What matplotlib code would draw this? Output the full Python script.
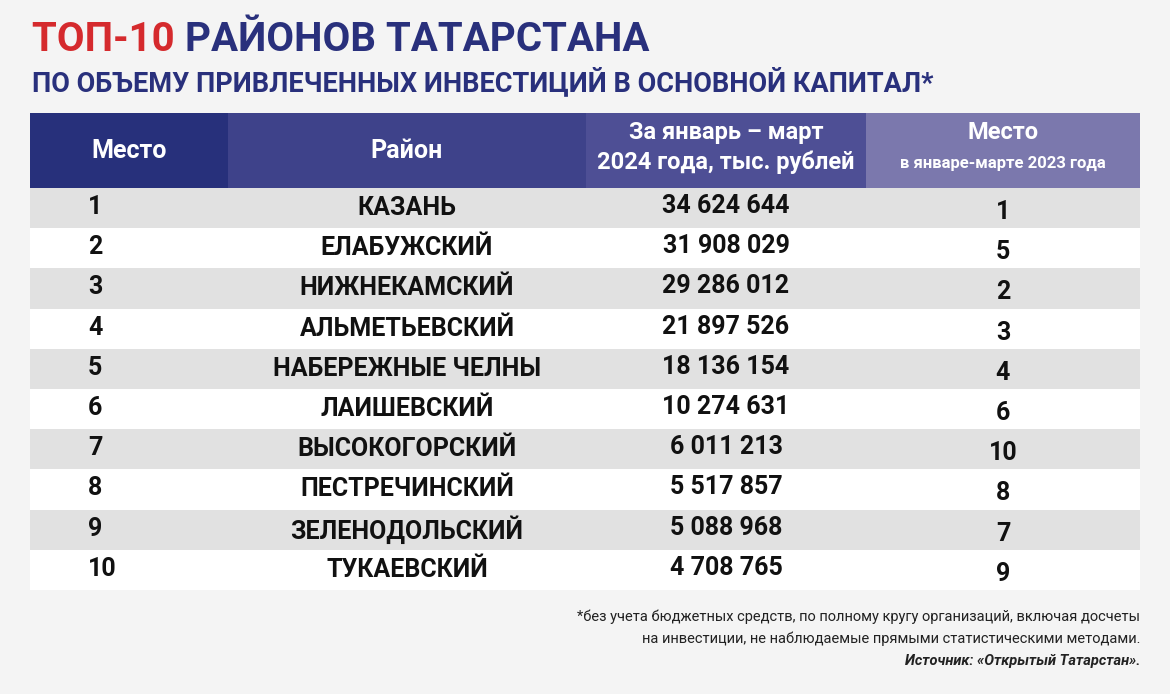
import matplotlib
matplotlib.use("Agg")
import matplotlib.pyplot as plt
from matplotlib.patches import Rectangle

ranks = ["1", "2", "3", "4", "5", "6", "7", "8", "9", "10"]
districts = ["КАЗАНЬ", "ЕЛАБУЖСКИЙ", "НИЖНЕКАМСКИЙ", "АЛЬМЕТЬЕВСКИЙ", "НАБЕРЕЖНЫЕ ЧЕЛНЫ",
             "ЛАИШЕВСКИЙ", "ВЫСОКОГОРСКИЙ", "ПЕСТРЕЧИНСКИЙ", "ЗЕЛЕНОДОЛЬСКИЙ", "ТУКАЕВСКИЙ"]
values = [34624644, 31908029, 29286012, 21897526, 18136154,
          10274631, 6011213, 5517857, 5088968, 4708765]
prev_ranks = ["1", "5", "2", "3", "4", "6", "10", "8", "7", "9"]

FONT = ["Liberation Sans Narrow", "Roboto", "DejaVu Sans"]
fig = plt.figure(figsize=(11.7, 6.94), dpi=100)
fig.patch.set_facecolor("#f4f4f4")
ax = fig.add_axes([0, 0, 1, 1])
ax.set_xlim(0, 1170); ax.set_ylim(694, 0); ax.axis("off")

def fmt(v):
    return f"{v:,}".replace(",", " ")

# title
t = ax.text(32, 40, "ТОП-10 ", color="#d52a2d", fontsize=29, fontweight="bold",
            family=["Roboto", "DejaVu Sans"], va="center")
fig.canvas.draw()
bb = t.get_window_extent()
ax.text(bb.x1, 40, "РАЙОНОВ ТАТАРСТАНА", color="#29307c", fontsize=29, fontweight="bold",
        family=["Roboto", "DejaVu Sans"], va="center", transform=None) if False else None
x1 = ax.transData.inverted().transform((bb.x1, 0))[0]
ax.text(x1, 40, "РАЙОНОВ ТАТАРСТАНА", color="#29307c", fontsize=29, fontweight="bold",
        family=["Roboto", "DejaVu Sans"], va="center")
ax.text(32, 82, "ПО ОБЪЕМУ ПРИВЛЕЧЕННЫХ ИНВЕСТИЦИЙ В ОСНОВНОЙ КАПИТАЛ*", color="#29307c",
        fontsize=19.5, fontweight="bold", family=["Roboto", "DejaVu Sans"], va="center")

# header
cols = [30, 228, 586, 866, 1140]
hcolors = ["#27307b", "#3e428a", "#4e4f95", "#7b78ad"]
for i, c in enumerate(hcolors):
    ax.add_patch(Rectangle((cols[i], 113), cols[i+1]-cols[i], 75, color=c, lw=0))
hkw = dict(color="white", fontweight="bold", family=FONT, ha="center", va="center")
ax.text(129, 151, "Место", fontsize=18, **hkw)
ax.text(407, 151, "Район", fontsize=18, **hkw)
ax.text(726, 132, "За январь – март", fontsize=17, **hkw)
ax.text(726, 162, "2024 года, тыс. рублей", fontsize=17, **hkw)
ax.text(1003, 132, "Место", fontsize=17, **hkw)
ax.text(1003, 163, "в январе-марте 2023 года", fontsize=12, **hkw)

# rows
rkw = dict(color="#111111", fontweight="bold", family=FONT, va="center", fontsize=18)
for i in range(len(ranks)):
    y0 = 188 + 40.2 * i
    ax.add_patch(Rectangle((30, y0), 1110, 40.2,
                           color="#e1e1e1" if i % 2 == 0 else "white", lw=0))
    yc = y0 + 19
    ax.text(88, yc, ranks[i], ha="left", **rkw)
    ax.text(407, yc + 1, districts[i], ha="center", **rkw)
    ax.text(726, yc - 1, fmt(values[i]), ha="center", **rkw)
    ax.text(1003, yc + 5, prev_ranks[i], ha="center", **rkw)

# footnote
fkw = dict(color="#222222", family=["Roboto", "DejaVu Sans"], ha="right", va="center", fontsize=10.5)
ax.text(1140, 617, "*без учета бюджетных средств, по полному кругу организаций, включая досчеты", **fkw)
ax.text(1140, 639, "на инвестиции, не наблюдаемые прямыми статистическими методами.", **fkw)
ax.text(1140, 661, "Источник: «Открытый Татарстан».", fontweight="bold", style="italic", **fkw)

fig.savefig("out.png", dpi=100, facecolor=fig.get_facecolor())
